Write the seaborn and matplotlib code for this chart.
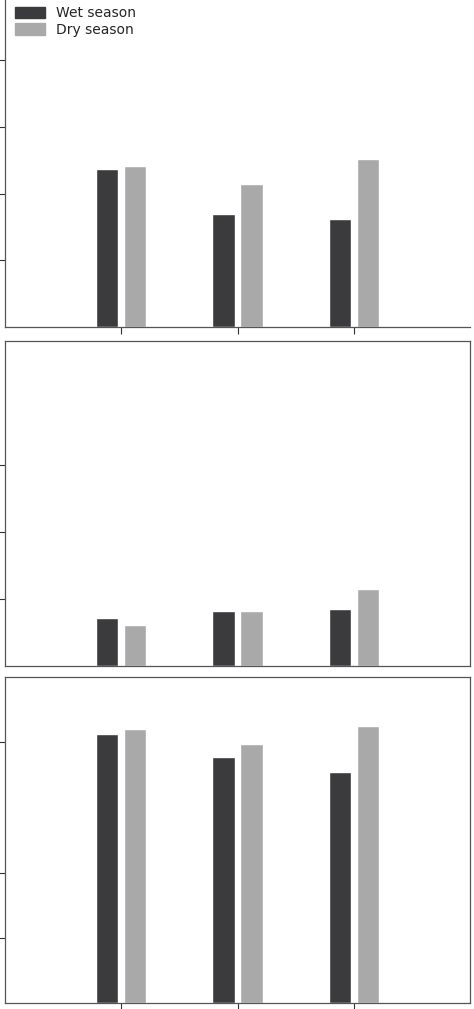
import matplotlib
matplotlib.use("Agg")
import matplotlib.pyplot as plt
import seaborn as sns
import pandas as pd
from matplotlib.patches import Patch

sns.set_style("white")
plt.rcParams['font.family'] = ['DejaVu Sans']

sites = ["A", "B", "C"]
seasons = ["Wet season", "Dry season"]
wet_top = [2.37, 1.69, 1.62]
dry_top = [2.41, 2.14, 2.51]
wet_mid = [0.72, 0.82, 0.85]
dry_mid = [0.61, 0.82, 1.15]
wet_bot = [4.12, 3.77, 3.55]
dry_bot = [4.20, 3.97, 4.25]

panels = [
    (wet_top, dry_top, 4.9, [1, 2, 3, 4]),
    (wet_mid, dry_mid, 4.85, [1, 2, 3]),
    (wet_bot, dry_bot, 5.0, [1, 2, 4]),
]
# axes boxes in pixels: (top, bottom)
boxes = [(0, 327), (341, 666), (677, 1003)]
colors = {"Wet season": "#3b3b3d", "Dry season": "#a9a9a9"}

W, H = 474, 1009
fig = plt.figure(figsize=(W / 100, H / 100), dpi=100)

for i, ((wet, dry, ymax, yt), (t, b)) in enumerate(zip(panels, boxes)):
    ax = fig.add_axes([5 / W, (H - b) / H, 465 / W, (b - t) / H])
    df = pd.DataFrame({
        "site": sites * 2,
        "season": ["Wet season"] * 3 + ["Dry season"] * 3,
        "value": wet + dry,
    })
    sns.barplot(data=df, x="site", y="value", hue="season", palette=colors,
                width=0.48, gap=0.2, legend=False, ax=ax, saturation=1)
    ax.set_xlim(-1, 3)
    ax.set_ylim(0, ymax)
    ax.set_yticks(yt)
    ax.set_yticklabels([])
    ax.set_xticks([0, 1, 2])
    ax.set_xticklabels([])
    ax.set_xlabel("")
    ax.set_ylabel("")
    ax.tick_params(axis="both", direction="out", length=5, width=0.8,
                   left=True, bottom=(i != 1), colors="#333333")
    for s in ax.spines.values():
        s.set_color("#555555")
        s.set_linewidth(0.9)
    if i == 0:
        ax.spines["top"].set_visible(False)
        ax.spines["right"].set_visible(False)
        ax.legend(handles=[Patch(color=colors[s], label=s) for s in seasons],
                  loc="upper left", frameon=False, fontsize=10,
                  handlelength=2.2, handleheight=0.9, borderaxespad=0.3,
                  labelspacing=0.15, bbox_to_anchor=(0.0, 1.01))

fig.savefig("out.png", dpi=100)
